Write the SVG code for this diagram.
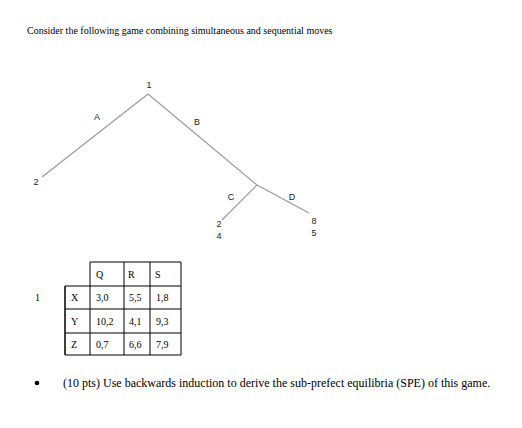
<svg xmlns="http://www.w3.org/2000/svg" width="522" height="428" viewBox="0 0 522 428">
<style>
.t{font-family:"Liberation Serif","Times New Roman",serif;font-size:10px;fill:#000}
.s{font-family:"Liberation Sans",Arial,sans-serif;font-size:9px;fill:#222}
.e{stroke:#9a9a9a;stroke-width:1.2;fill:none}
.g{stroke:#000;stroke-width:1;fill:none}
</style>
<rect width="522" height="428" fill="#fff"/>
<text class="t" x="27" y="34">Consider the following game combining simultaneous and sequential moves</text>
<g id="connectors">
<line class="e" x1="148" y1="94" x2="42" y2="177"/>
<line class="e" x1="148" y1="94" x2="257" y2="185"/>
<line class="e" x1="257" y1="185" x2="222" y2="220"/>
<line class="e" x1="257" y1="185" x2="309" y2="213"/>
</g>
<g id="node1"><text class="s" x="149" y="88" text-anchor="middle">1</text></g>
<g id="node2"><text class="s" x="36" y="185" text-anchor="middle">2</text></g>
<g id="labelA"><text class="s" x="97" y="120" text-anchor="middle">A</text></g>
<g id="labelB"><text class="s" x="197" y="125" text-anchor="middle">B</text></g>
<g id="labelC"><text class="s" x="231" y="200" text-anchor="middle">C</text></g>
<g id="labelD"><text class="s" x="292" y="200" text-anchor="middle">D</text></g>
<g id="payoffC"><text class="s" x="219" y="227" text-anchor="middle">2</text><text class="s" x="219" y="239" text-anchor="middle">4</text></g>
<g id="payoffD"><text class="s" x="314" y="224" text-anchor="middle">8</text><text class="s" x="314" y="236" text-anchor="middle">5</text></g>
<g id="table">
<text class="t" x="35" y="301">1</text>
<path class="g" d="M90 262H181V355H65V286H181M65 309H181M65 333H181M90 262V355M124 262V355M150 262V355M65 286V355"/>
<text class="t" x="96" y="278">Q</text><text class="t" x="128" y="278">R</text><text class="t" x="155" y="278">S</text>
<text class="t" x="71" y="301">X</text><text class="t" x="96" y="301">3,0</text><text class="t" x="129" y="301">5,5</text><text class="t" x="156" y="301">1,8</text>
<text class="t" x="71" y="325">Y</text><text class="t" x="96" y="325">10,2</text><text class="t" x="129" y="325">4,1</text><text class="t" x="156" y="325">9,3</text>
<text class="t" x="71" y="348">Z</text><text class="t" x="96" y="348">0,7</text><text class="t" x="129" y="348">6,6</text><text class="t" x="156" y="348">7,9</text>
</g>
<circle cx="37" cy="383" r="2.3" fill="#000"/>
<text class="t" x="63" y="387" style="font-size:12px">(10 pts) Use backwards induction to derive the sub-prefect equilibria (SPE) of this game.</text>
</svg>
